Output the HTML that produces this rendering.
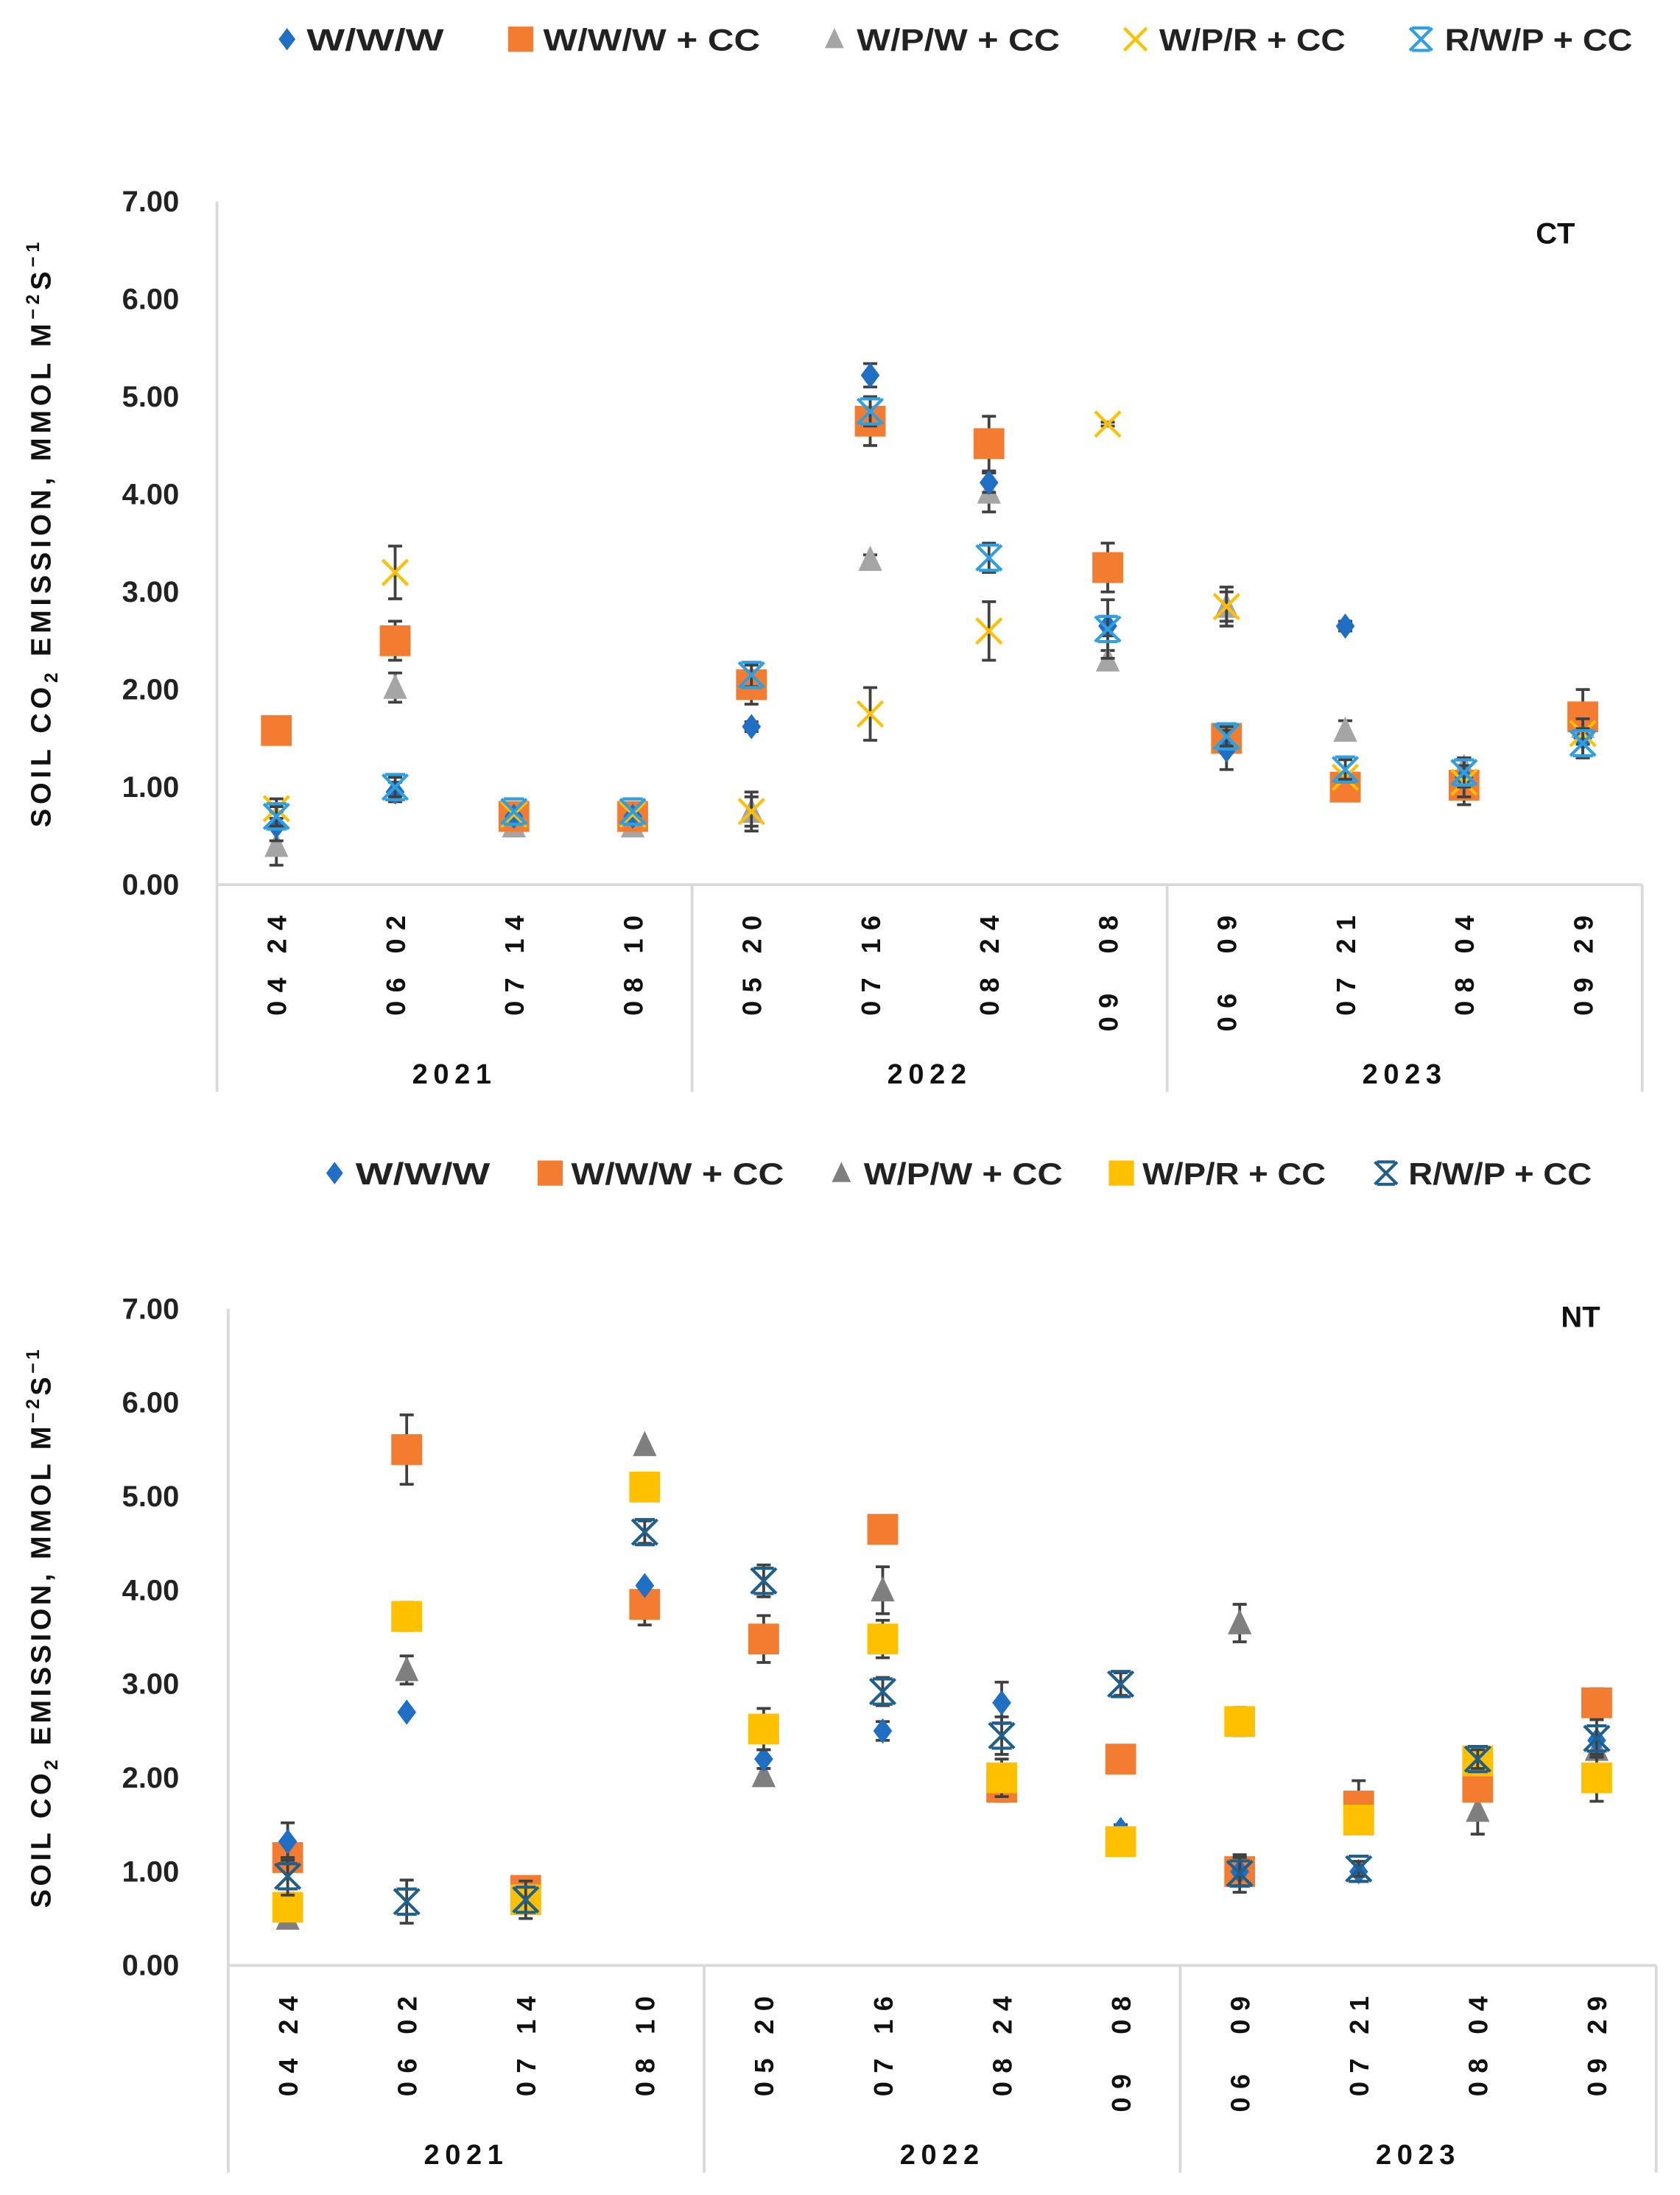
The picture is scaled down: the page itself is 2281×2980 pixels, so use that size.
<!DOCTYPE html>
<html><head><meta charset="utf-8"><style>
html,body{margin:0;padding:0;background:#fff;}
svg{display:block;}
text{font-family:"Liberation Sans",sans-serif;font-weight:bold;}
</style></head><body>
<svg id="s" width="2281" height="2980" viewBox="0 0 1200 1568" preserveAspectRatio="none" xmlns="http://www.w3.org/2000/svg"></svg>
<script>
const S=document.getElementById('s');let h='';
function mk(t,x,y,c,sz){
 if(t=='d'){const r=sz||9;return `<polygon points="${x},${y-r} ${x+r*0.75},${y} ${x},${y+r} ${x-r*0.75},${y}" fill="${c}"/>`;}
 if(t=='s'){const r=sz||11;return `<rect x="${x-r}" y="${y-r}" width="${2*r}" height="${2*r}" fill="${c}"/>`;}
 if(t=='t'){const r=sz||10;return `<polygon points="${x},${y-r} ${x+r*0.85},${y+r*0.8} ${x-r*0.85},${y+r*0.8}" fill="${c}"/>`;}
 if(t=='x'){const r=sz||9;return `<path d="M${x-r},${y-r}L${x+r},${y+r}M${x+r},${y-r}L${x-r},${y+r}" stroke="${c}" stroke-width="2.2"/>`;}
 if(t=='a'){const r=sz||9;return `<path d="M${x-r},${y-r}L${x+r},${y+r}M${x+r},${y-r}L${x-r},${y+r}M${x-r*0.8},${y-r}H${x+r*0.8}M${x-r*0.8},${y+r}H${x+r*0.8}" stroke="${c}" stroke-width="2.2"/>`;}
}
function chart(o){
 const {x0,top,bot,right,ly,leg,series,label,lx,lyy}=o;
 const cw=(right-x0)/12, sc=(bot-top)/7;
 leg.forEach(l=>{h+=mk(l.t,l.mx,ly,l.c,l.t=='s'?9:8);h+=`<text x="${l.tx}" y="${ly+8}" font-size="22" fill="#222" textLength="${l.w}" lengthAdjust="spacingAndGlyphs">${l.n}</text>`;});
 h+=`<line x1="${x0}" y1="${top}" x2="${x0}" y2="${bot}" stroke="#d9d9d9" stroke-width="2"/>`;
 h+=`<line x1="${x0}" y1="${bot}" x2="${right}" y2="${bot}" stroke="#d9d9d9" stroke-width="2"/>`;
 for(let i=0;i<4;i++){const x=x0+i*cw*4;h+=`<line x1="${x}" y1="${bot}" x2="${x}" y2="${bot+148}" stroke="#d9d9d9" stroke-width="2"/>`;}
 for(let v=0;v<=7;v++){h+=`<text x="128" y="${bot-v*sc+7}" font-size="21" text-anchor="end" fill="#222">${v.toFixed(2)}</text>`;}
 const ticks=['04 24','06 02','07 14','08 10','05 20','07 16','08 24','09  08','06  09','07 21','08 04','09 29'];
 ticks.forEach((t,i)=>{const x=x0+cw*(i+0.5);h+=`<text transform="translate(${x+7},${bot+16}) rotate(-90)" font-size="19" text-anchor="end" letter-spacing="6" fill="#111" xml:space="preserve">${t}</text>`;});
 ['2021','2022','2023'].forEach((y,i)=>{h+=`<text x="${x0+cw*(i*4+2)}" y="${bot+142}" font-size="20" text-anchor="middle" letter-spacing="4" fill="#111">${y}</text>`;});
 h+=`<text transform="translate(36,${(top+bot)/2-6}) rotate(-90)" font-size="20" text-anchor="middle" fill="#111" textLength="${bot-top-70}" lengthAdjust="spacing">SOIL CO<tspan font-size="13" dy="5">2</tspan><tspan dy="-5"> EMISSION, MMOL M</tspan><tspan font-size="13" dy="-8">−2</tspan><tspan dy="8">S</tspan><tspan font-size="13" dy="-8">−1</tspan></text>`;
 h+=`<text x="${lx}" y="${lyy}" font-size="21" fill="#111">${label}</text>`;
 series.forEach(s=>{s.d.forEach((p,i)=>{const x=x0+cw*(i+0.5),y=bot-p[0]*sc;const e=(p[1]||0)*sc;
  if(e>0){h+=`<path d="M${x},${y-e}V${y+e}M${x-5},${y-e}H${x+5}M${x-5},${y+e}H${x+5}" stroke="#404040" stroke-width="2"/>`;}
  h+=mk(s.t,x,y,s.c);});});
}
chart({x0:155,top:144,bot:632,right:1173,ly:28,lx:1097,lyy:174,label:'CT',
 leg:[{t:'d',c:'#1f6fc5',mx:205,tx:219,n:'W/W/W',w:98},{t:'s',c:'#f47c30',mx:372,tx:388,n:'W/W/W + CC',w:155},{t:'t',c:'#a5a5a5',mx:596,tx:612,n:'W/P/W + CC',w:145},{t:'x',c:'#ffc000',mx:811,tx:828,n:'W/P/R + CC',w:133},{t:'a',c:'#2e9fe0',mx:1015,tx:1032,n:'R/W/P + CC',w:134}],
 series:[
 {t:'t',c:'#a5a5a5',d:[[0.4,0.2],[2.02,0.15],[0.6,0.1],[0.6,0.05],[0.75,0.15],[3.33,0.05],[4.02,0.2],[2.3,0.1],[2.85,0.2],[1.58,0.1],[1.2,0.1],[1.62,0.1]]},
 {t:'s',c:'#f47c30',d:[[1.58,0.12],[2.5,0.2],[0.7,0.1],[0.7,0.1],[2.05,0.2],[4.75,0.25],[4.52,0.28],[3.25,0.25],[1.5,0.15],[1.0,0.1],[1.02,0.2],[1.72,0.28]]},
 {t:'d',c:'#1f6fc5',d:[[0.6,0.15],[0.95,0.1],[0.7,0],[0.7,0],[1.62,0.05],[5.22,0.12],[4.12,0.1],[2.65,0.1],[1.38,0.2],[2.65,0.05],[1.1,0.2],[1.5,0.2]]},
 {t:'x',c:'#ffc000',d:[[0.78,0.1],[3.2,0.27],[0.72,0],[0.72,0],[0.75,0.2],[1.75,0.27],[2.6,0.3],[4.72,0.02],[2.85,0.15],[1.1,0],[1.05,0],[1.55,0]]},
 {t:'a',c:'#2e9fe0',d:[[0.7,0.1],[1.0,0.1],[0.75,0],[0.75,0],[2.15,0.12],[4.85,0.15],[3.35,0.15],[2.62,0.3],[1.52,0.1],[1.18,0.1],[1.15,0.15],[1.45,0.15]]}
 ]});
chart({x0:163,top:935,bot:1404,right:1183,ly:838,lx:1115,lyy:948,label:'NT',
 leg:[{t:'d',c:'#1f6fc5',mx:239,tx:254,n:'W/W/W',w:96},{t:'s',c:'#f47c30',mx:393,tx:408,n:'W/W/W + CC',w:152},{t:'t',c:'#7f7f7f',mx:601,tx:617,n:'W/P/W + CC',w:142},{t:'s',c:'#ffc000',mx:801,tx:816,n:'W/P/R + CC',w:131},{t:'a',c:'#1f5f8b',mx:990,tx:1006,n:'R/W/P + CC',w:131}],
 series:[
 {t:'t',c:'#7f7f7f',d:[[0.5,0],[3.15,0.15],[0.7,0],[5.55,0],[2.02,0],[4.0,0.25],[2.0,0],[1.4,0],[3.65,0.2],[1.6,0],[1.65,0.25],[2.3,0]]},
 {t:'s',c:'#f47c30',d:[[1.15,0.1],[5.5,0.37],[0.8,0.1],[3.85,0.22],[3.48,0.25],[4.65,0.1],[1.9,0.15],[2.2,0],[1.0,0.1],[1.7,0.27],[1.9,0.1],[2.8,0.15]]},
 {t:'d',c:'#1f6fc5',d:[[1.32,0.2],[2.7,0],[0.7,0],[4.05,0],[2.2,0.1],[2.5,0.1],[2.8,0.22],[1.45,0.05],[1.0,0.15],[1.0,0],[2.2,0],[2.4,0]]},
 {t:'s',c:'#ffc000',d:[[0.62,0.15],[3.72,0.15],[0.7,0],[5.1,0],[2.52,0.22],[3.48,0.2],[2.0,0.2],[1.32,0],[2.6,0.15],[1.55,0],[2.18,0],[2.0,0.25]]},
 {t:'a',c:'#1f5f8b',d:[[0.95,0.2],[0.68,0.23],[0.7,0.2],[4.62,0.12],[4.1,0.17],[2.92,0.15],[2.45,0.2],[3.0,0.12],[0.98,0.2],[1.03,0.08],[2.2,0.1],[2.42,0.2]]}
 ]});
S.innerHTML=h;
</script>
</body></html>
